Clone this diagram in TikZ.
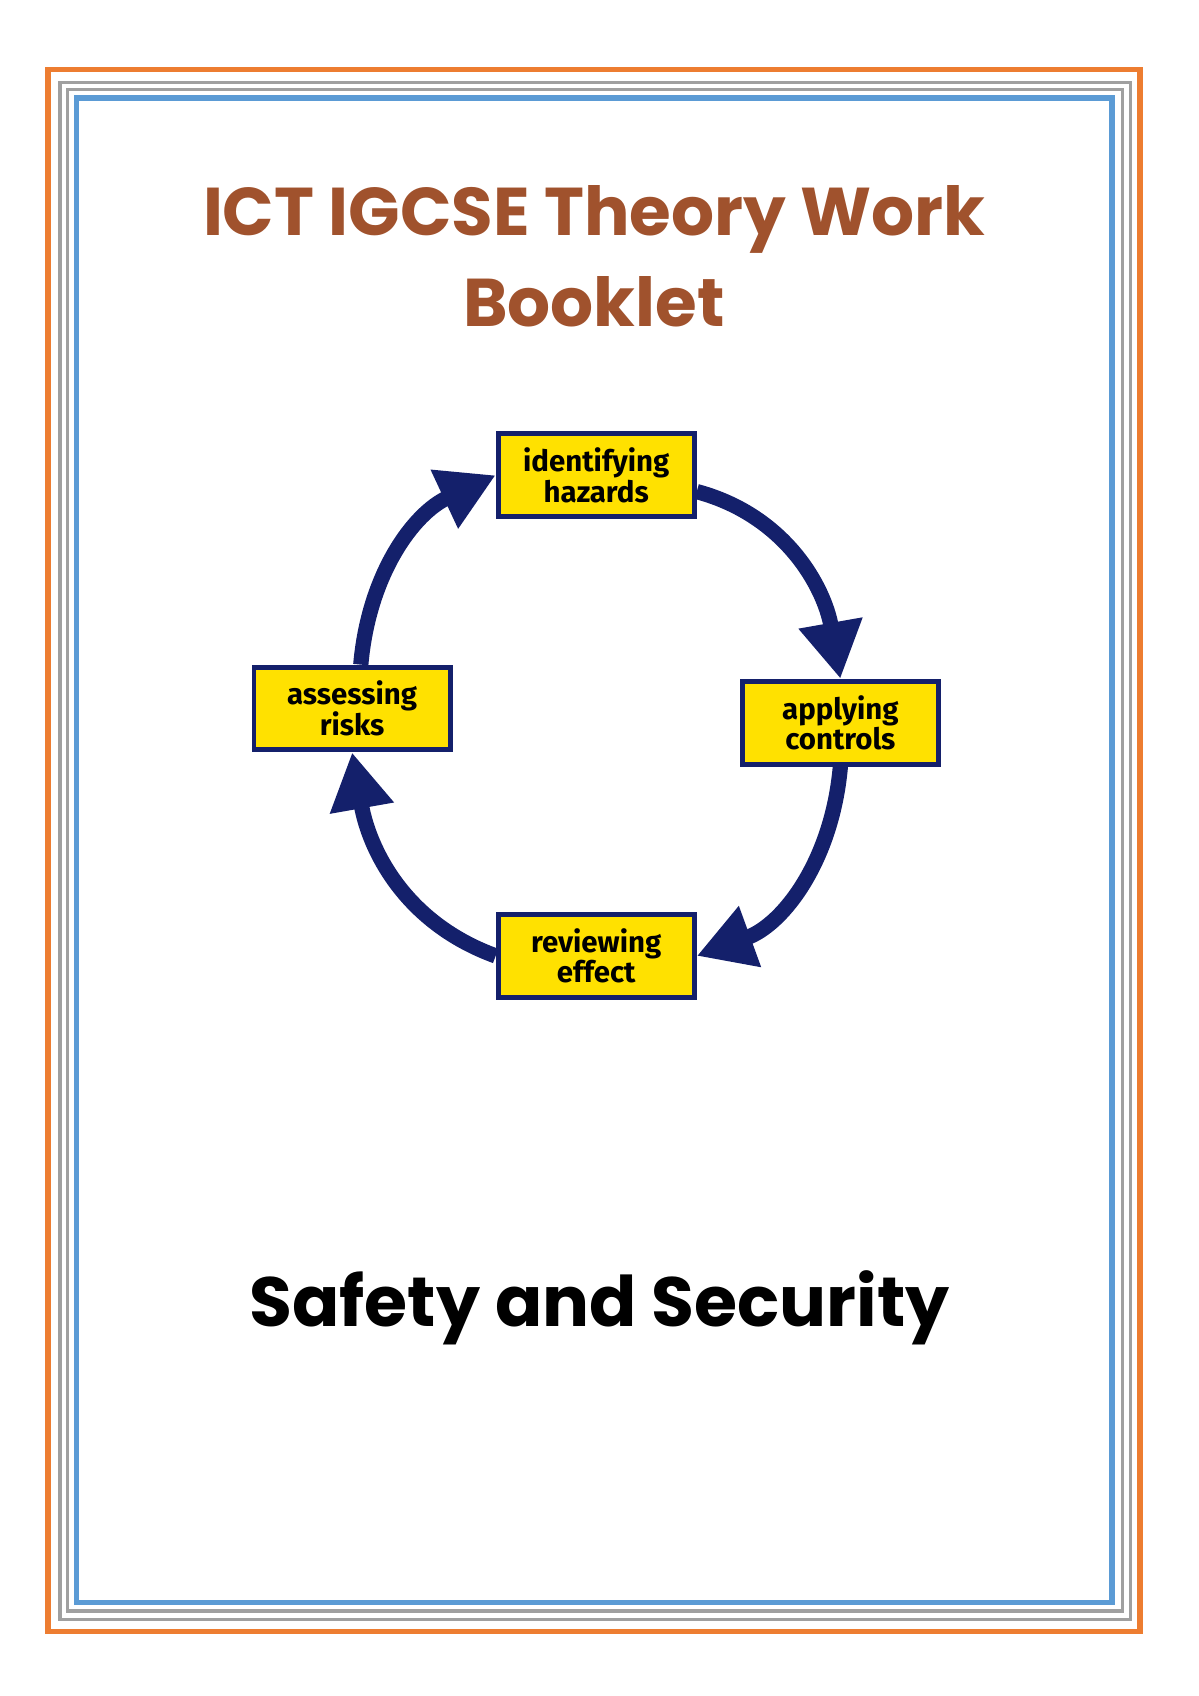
\documentclass[tikz,border=0pt]{standalone}
\usepackage{fontspec}
\setmainfont{Fira Sans}
\newfontfamily\titlefont{Poppins}
\usetikzlibrary{arrows.meta}
\definecolor{borange}{HTML}{ED7D31}
\definecolor{bgray}{HTML}{A0A0A0}
\definecolor{bblue}{HTML}{5B9BD5}
\definecolor{navy}{HTML}{14206B}
\definecolor{byellow}{HTML}{FFE100}
\definecolor{brown}{HTML}{A0522D}
\tikzset{
  stage/.style={draw=navy, line width=4.5pt, fill=byellow, minimum width=180pt, minimum height=76pt, align=center, font=\fontsize{27}{28}\selectfont\bfseries, text=black, inner sep=2pt},
  cyc/.style={draw=navy, line width=14pt, -{Triangle[length=52pt,width=56pt]}}
}
\begin{document}
\begin{tikzpicture}[x=1pt,y=-1pt]
\useasboundingbox (0,0) rectangle (1100,1556);
\draw[borange, line width=5pt] (44,64) rectangle (1046,1497);
\draw[bgray, line width=3pt] (55,76) rectangle (1037,1486);
\draw[bgray, line width=3pt] (62,82) rectangle (1030,1478);
\draw[bblue, line width=5pt] (70,90) rectangle (1020,1470);
\node[font=\titlefont\fontsize{62}{84}\selectfont\bfseries, text=brown, align=center] (title) at (545,235) {ICT IGCSE Theory Work\\Booklet};
\node[stage] (haz) at (547,436) {identifying\\hazards};
\node[stage] (ass) at (323,650) {assessing\\risks};
\node[stage] (app) at (771,663) {applying\\controls};
\node[stage] (rev) at (547,877) {reviewing\\effect};
\draw[cyc] (haz.east) ++(0,15) to[out=-15,in=100] (app.north);
\draw[cyc] (app.south) to[out=-95,in=20] (rev.east);
\draw[cyc] (rev.west) to[out=160,in=-80] (ass.south);
\draw[cyc] (ass.north) ++(8,0) to[out=85,in=-155] (haz.west);
\node[font=\titlefont\fontsize{64}{80}\selectfont\bfseries, text=black] (sub) at (550,1200) {Safety and Security};
\end{tikzpicture}
\end{document}
